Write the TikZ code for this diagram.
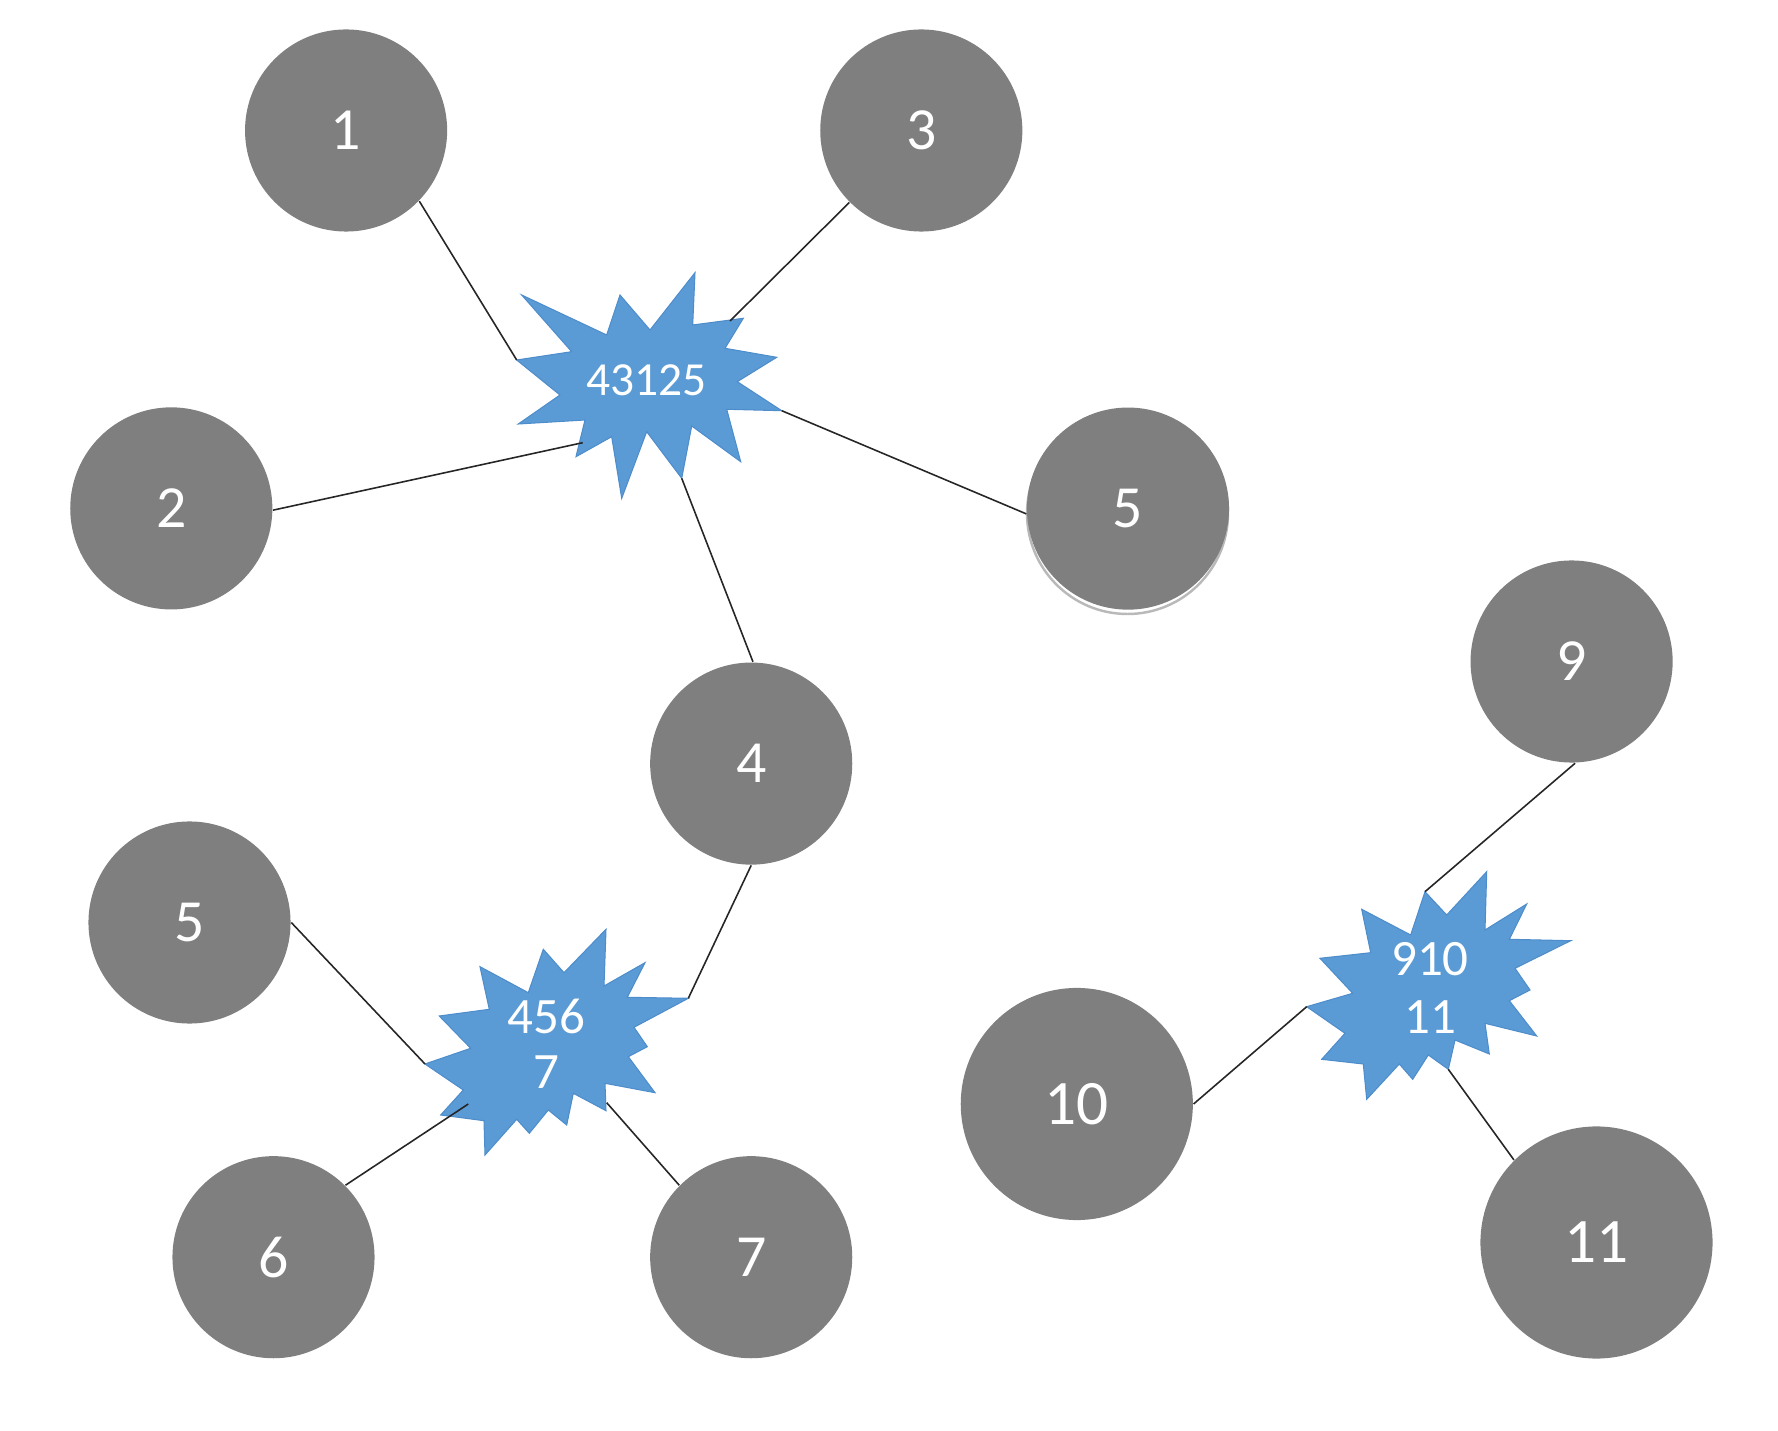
\documentclass[tikz,border=0pt]{standalone}
\usepackage{fontspec}
\setmainfont{Carlito}[Numbers=Lining]
\definecolor{cgray}{HTML}{7F7F7F}
\definecolor{sblue}{HTML}{5B9BD5}
\definecolor{sedge}{HTML}{4E8DCB}
\begin{document}
\begin{tikzpicture}[x=0.01cm,y=-0.01cm,
  circ/.style={circle,fill=cgray,minimum size=2.02cm,inner sep=0pt,text=white,font=\fontsize{17}{20}\selectfont},
  bigcirc/.style={circ,minimum size=2.32cm,font=\fontsize{18}{21}\selectfont},
  burst/.style={fill=sblue,draw=sedge,line width=0.3pt,line join=miter},
  blab/.style={text=white,align=center,inner sep=0pt},
  link/.style={draw=black!85,line width=0.45pt}]
\useasboundingbox (0,0) rectangle (1778,1431);

% bursts
\filldraw[burst] (521.7,295) -- (606.7,335) -- (620,295) -- (650,330) -- (695,272.7) -- (692.7,325) -- (743.3,318.3) -- (725,348.3) -- (776.7,357.3) -- (737.3,381.7) -- (781.7,410.7) -- (726.7,409.3) -- (740.7,461.7) -- (691.7,426) -- (681.7,478.3) -- (646.7,431.7) -- (621.7,498.3) -- (611.7,436.7) -- (576,456.7) -- (585,420) -- (518.3,424) -- (560,395) -- (516.7,360) -- (571.7,351.7) -- cycle;
\filldraw[burst] (480,966.7) -- (528.3,992.7) -- (543.3,949.3) -- (564,972.7) -- (606,929.3) -- (604,986) -- (645,962.7) -- (627.3,997.3) -- (688.3,998.3) -- (634,1027.3) -- (647.3,1046.7) -- (628.3,1056.7) -- (655,1092.7) -- (605,1083.3) -- (606,1110.7) -- (573.3,1093.3) -- (566.7,1125) -- (548.3,1110) -- (529.3,1133.3) -- (516.7,1119.3) -- (485,1155) -- (484,1120.7) -- (440.7,1115) -- (463.3,1090) -- (425,1064) -- (470.7,1048.3) -- (439.3,1016) -- (489.3,1009.3) -- cycle;
\filldraw[burst] (1361.7,909.3) -- (1410.7,935) -- (1425,891.7) -- (1446.7,915) -- (1486.7,871.7) -- (1485,930) -- (1526.7,904) -- (1509.3,939.3) -- (1570.7,940.7) -- (1515,968.3) -- (1530,990) -- (1509.3,1000.7) -- (1536.7,1036) -- (1485,1023.3) -- (1489.3,1054) -- (1455,1040) -- (1448.3,1069.3) -- (1428.3,1055) -- (1412.7,1079.3) -- (1399.3,1064) -- (1366.7,1099.3) -- (1363.3,1064) -- (1321.7,1059.3) -- (1345,1033.3) -- (1306.7,1006.7) -- (1352.7,993.3) -- (1320,958.3) -- (1370.7,952.7) -- cycle;

\node[blab,font=\fontsize{13.5}{16}\selectfont] (s1) at (646.7,380) {43125};
\node[blab,font=\fontsize{14.5}{15.6}\selectfont] (s2) at (546.5,1044) {456\\7};
\node[blab,font=\fontsize{14.5}{16.3}\selectfont] (s3) at (1430,988) {910\\11};

% connection points on bursts
\coordinate (a1L) at (516.7,360);
\coordinate (a1TR) at (730,321);
\coordinate (a1BL) at (582.7,442.7);
\coordinate (a1R) at (781.7,410.7);
\coordinate (a1B) at (681.7,478.3);
\coordinate (a2R) at (688.3,998.3);
\coordinate (a2L) at (425,1064);
\coordinate (a2BL) at (468.3,1104);
\coordinate (a2BR) at (606.7,1102.7);
\coordinate (a3T) at (1425,891.7);
\coordinate (a3L) at (1306.7,1006.7);
\coordinate (a3B) at (1448.3,1069.3);

% circles
\draw[gray!55,line width=0.7pt] (1127.5,513.5) circle [radius=100.5];
\node[circ] (c1) at (346.1,130.5) {1};
\node[circ] (c3) at (921.3,130.5) {3};
\node[circ] (c2) at (171.3,508.4) {2};
\node[circ] (c5a) at (1128,508.6) {5};
\node[circ] (c4) at (751.2,763.6) {4};
\node[circ] (c5b) at (189.5,922.5) {5};
\node[circ] (c6) at (273.5,1257.2) {6};
\node[circ] (c7) at (751.2,1257.2) {7};
\node[circ] (c9) at (1571.6,661.5) {9};
\node[bigcirc] (c10) at (1076.8,1104.0) {10};
\node[bigcirc] (c11) at (1596.5,1242.5) {11};

% links
\draw[link] (c1.-44) -- (a1L);
\draw[link] (c3.-135) -- (a1TR);
\draw[link] (c2.-1) -- (a1BL);
\draw[link] (c5a.183) -- (a1R);
\draw[link] (a1B) -- (c4.89);
\draw[link] (c4.-90) -- (a2R);
\draw[link] (c5b.0) -- (a2L);
\draw[link] (c6.45) -- (a2BL);
\draw[link] (a2BR) -- (c7.135);
\draw[link] (c9.-88) -- (a3T);
\draw[link] (c10.0) -- (a3L);
\draw[link] (a3B) -- (c11.135);
\end{tikzpicture}
\end{document}
